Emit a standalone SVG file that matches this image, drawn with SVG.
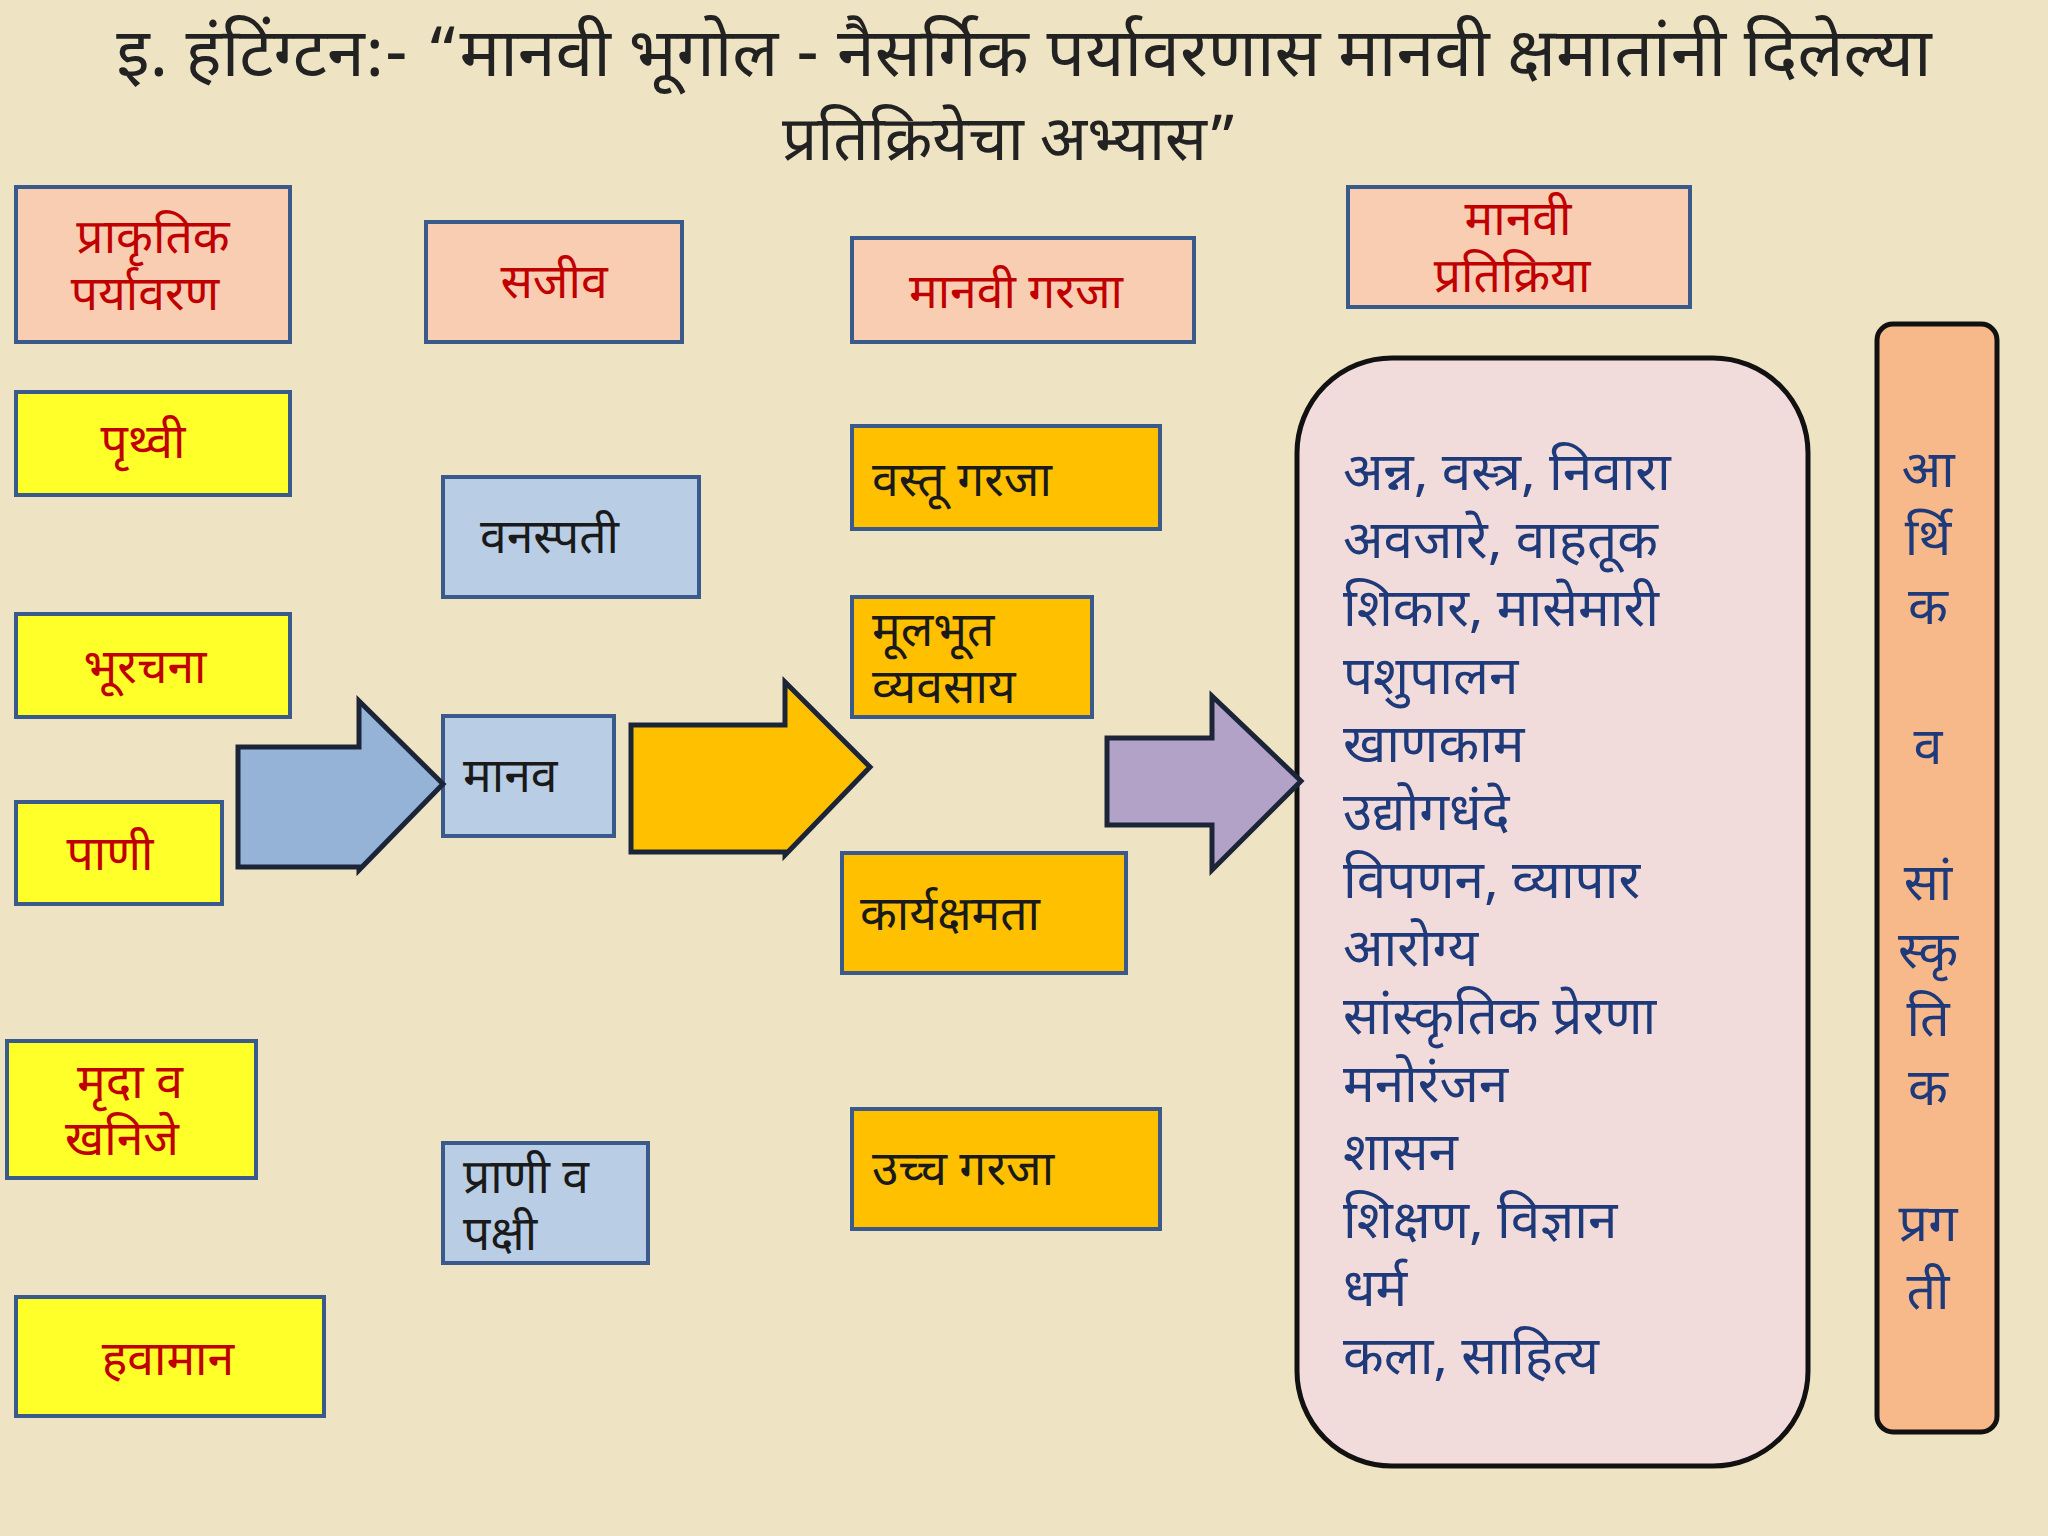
<svg xmlns="http://www.w3.org/2000/svg" width="2048" height="1536" viewBox="0 0 2048 1536">
<style>
text{font-family:"Noto Sans Devanagari","Noto Serif Devanagari","Lohit Devanagari","Noto Sans",sans-serif}
.b{stroke:#3b5a8c;stroke-width:4}
.pk{fill:#f9cdb2}.ye{fill:#ffff2a}.bl{fill:#b9cde5}.or{fill:#ffc000}
.r{fill:#c00000;font-size:48px;text-anchor:middle}
.k{fill:#1a1a1a;font-size:48px}
.l{fill:#1f3a7a;font-size:53px}
.v{fill:#1f3a7a;font-size:52px;text-anchor:middle}
.ar{stroke:#1c2438;stroke-width:5;stroke-linejoin:miter}
</style>
<rect width="2048" height="1536" fill="#eee4c3"/>
<text x="1024" y="76" font-size="68" text-anchor="middle" fill="#222">इ. हंटिंग्टन:-  “मानवी भूगोल - नैसर्गिक पर्यावरणास  मानवी क्षमातांनी दिलेल्या</text>
<text x="1010" y="160" font-size="62" text-anchor="middle" fill="#222">प्रतिक्रियेचा अभ्यास”</text>

<g id="n-prakrutik"><rect class="b pk" x="16" y="187" width="274" height="155"/><text class="r" x="153" y="253">प्राकृतिक</text><text class="r" x="145" y="310">पर्यावरण</text></g>
<g id="n-sajiv"><rect class="b pk" x="426" y="222" width="256" height="120"/><text class="r" x="554" y="298">सजीव</text></g>
<g id="n-garaja"><rect class="b pk" x="852" y="238" width="342" height="104"/><text class="r" x="1016" y="308">मानवी गरजा</text></g>
<g id="n-pratikriya"><rect class="b pk" x="1348" y="187" width="342" height="120"/><text class="r" x="1518" y="235">मानवी</text><text class="r" x="1512" y="292">प्रतिक्रिया</text></g>

<g id="n-pruthvi"><rect class="b ye" x="16" y="392" width="274" height="103"/><text class="r" x="143" y="458">पृथ्वी</text></g>
<g id="n-bhurachana"><rect class="b ye" x="16" y="614" width="274" height="103"/><text class="r" x="145" y="683">भूरचना</text></g>
<g id="n-pani"><rect class="b ye" x="16" y="802" width="206" height="102"/><text class="r" x="110" y="870">पाणी</text></g>
<g id="n-mruda"><rect class="b ye" x="7" y="1041" width="249" height="137"/><text class="r" x="130" y="1098">मृदा व</text><text class="r" x="122" y="1155">खनिजे</text></g>
<g id="n-havaman"><rect class="b ye" x="16" y="1297" width="308" height="119"/><text class="r" x="168" y="1375">हवामान</text></g>

<g id="n-vanaspati"><rect class="b bl" x="443" y="477" width="256" height="120"/><text class="k" x="480" y="553">वनस्पती</text></g>
<g id="n-manav"><rect class="b bl" x="443" y="716" width="171" height="120"/><text class="k" x="463" y="792">मानव</text></g>
<g id="n-prani"><rect class="b bl" x="443" y="1143" width="205" height="120"/><text class="k" x="463" y="1193">प्राणी व</text><text class="k" x="463" y="1250">पक्षी</text></g>

<g id="n-vastu"><rect class="b or" x="852" y="426" width="308" height="103"/><text class="k" x="872" y="496">वस्तू गरजा</text></g>
<g id="n-mulbhut"><rect class="b or" x="852" y="597" width="240" height="120"/><text class="k" x="872" y="646">मूलभूत</text><text class="k" x="872" y="703">व्यवसाय</text></g>
<g id="n-karya"><rect class="b or" x="842" y="853" width="284" height="120"/><text class="k" x="860" y="930">कार्यक्षमता</text></g>
<g id="n-uchcha"><rect class="b or" x="852" y="1109" width="308" height="120"/><text class="k" x="872" y="1185">उच्च गरजा</text></g>

<g id="n-list"><rect x="1297" y="358" width="511" height="1108" rx="95" fill="#f2dcdb" stroke="#111" stroke-width="5"/>
<text class="l" x="1343" y="490">अन्न, वस्त्र, निवारा</text>
<text class="l" x="1343" y="558">अवजारे, वाहतूक</text>
<text class="l" x="1343" y="626">शिकार, मासेमारी</text>
<text class="l" x="1343" y="694">पशुपालन</text>
<text class="l" x="1343" y="762">खाणकाम</text>
<text class="l" x="1343" y="830">उद्योगधंदे</text>
<text class="l" x="1343" y="898">विपणन, व्यापार</text>
<text class="l" x="1343" y="966">आरोग्य</text>
<text class="l" x="1343" y="1034">सांस्कृतिक प्रेरणा</text>
<text class="l" x="1343" y="1102">मनोरंजन</text>
<text class="l" x="1343" y="1170">शासन</text>
<text class="l" x="1343" y="1238">शिक्षण,  विज्ञान</text>
<text class="l" x="1343" y="1306">धर्म</text>
<text class="l" x="1343" y="1374">कला, साहित्य</text>
</g>

<g id="n-pragati"><rect x="1877" y="324" width="120" height="1108" rx="16" fill="#f8b98a" stroke="#111" stroke-width="5"/>
<text class="v" x="1928" y="487">आ</text><text class="v" x="1928" y="555">र्थि</text><text class="v" x="1928" y="624">क</text>
<text class="v" x="1928" y="764">व</text>
<text class="v" x="1928" y="900">सां</text><text class="v" x="1928" y="968">स्कृ</text><text class="v" x="1928" y="1036">ति</text><text class="v" x="1928" y="1105">क</text>
<text class="v" x="1928" y="1241">प्रग</text><text class="v" x="1928" y="1309">ती</text>
</g>

<g id="connectors">
<polygon class="ar" fill="#95b3d7" points="238,747 359,747 359,701 443,784 359,870 359,867 238,867"/>
<polygon class="ar" fill="#ffc000" points="631,725 785,725 785,682 870,767 785,855 785,852 631,852"/>
<polygon class="ar" fill="#b2a2c7" points="1107,738 1212,738 1212,696 1301,781 1212,870 1212,825 1107,825"/>
</g>
</svg>
